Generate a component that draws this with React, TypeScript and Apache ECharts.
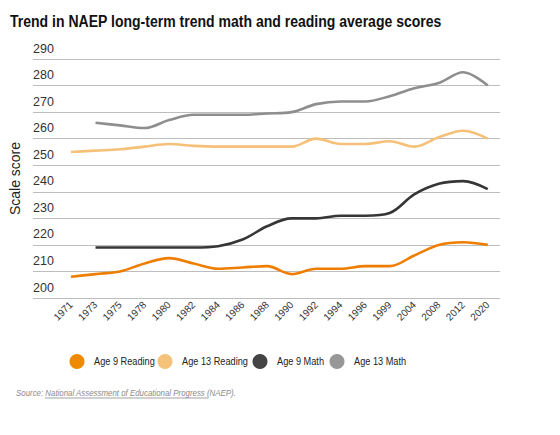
import React, { useEffect, useRef } from "react";
import * as echarts from "echarts";

const years = ["1971","1973","1975","1978","1980","1982","1984","1986","1988","1990","1992","1994","1996","1999","2004","2008","2012","2020"];
const age9Reading = [208,209,210,213,215,213,211,211.5,212,209,211,211,212,212,216,220,221,220];
const age13Reading = [255,255.5,256,257,258,257.3,257,257,257,257,260,258,258,259,257,260.5,263,260];
const age9Math = [null,219,219,219,219,219,219.5,222,227,230,230,231,231,232,239,243,244,241];
const age13Math = [null,266,265,264,267,269,269,269,269.5,270,273,274,274,276,279,281,285,280];
const seriesNames = ["Age 9 Reading","Age 13 Reading","Age 9 Math","Age 13 Math"];
const seriesColors = ["#ef7d00","#f5c078","#363636","#8e8e8e"];
const legendColors = ["#ef8a00","#f5c27a","#444444","#979797"];
const yTicks = { min: 200, max: 290, interval: 10 };

const SANS = '"Liberation Sans", Arial, sans-serif';
const legendIconX = [77, 165, 260, 337];

export default function App() {
  const ref = useRef<HTMLDivElement>(null);
  useEffect(() => {
    document.body.style.margin = "0";
    const chart = echarts.init(ref.current!, null, { renderer: "svg" });
    const all = [age9Reading, age13Reading, age9Math, age13Math];
    const legendEls: any[] = [];
    seriesNames.forEach((n, k) => {
      legendEls.push({
        type: "circle",
        shape: { cx: legendIconX[k], cy: 361.5, r: 7.5 },
        style: { fill: legendColors[k] },
      });
      legendEls.push({
        type: "text",
        x: legendIconX[k] + 17,
        y: 361.5,
        scaleX: 0.8,
        style: {
          text: n,
          font: `11.5px ${SANS}`,
          fill: "#222",
          verticalAlign: "middle",
        },
      });
    });
    chart.setOption({
      animation: false,
      backgroundColor: "#ffffff",
      grid: { left: 33, right: 60, top: 59, bottom: 137 },
      xAxis: {
        type: "value",
        min: -1.55,
        max: 17.5,
        axisLine: { show: false },
        axisTick: { show: false },
        splitLine: { show: false },
        axisLabel: {
          customValues: years.map((_, i) => i),
          formatter: (v: number) => years[Math.round(v)] ?? "",
          rotate: 45,
          margin: 5,
          fontFamily: SANS,
          fontSize: 10,
          color: "#333",
        },
      },
      yAxis: {
        type: "value",
        min: yTicks.min,
        max: yTicks.max,
        interval: yTicks.interval,
        name: "Scale score",
        nameLocation: "middle",
        nameRotate: 90,
        nameGap: 8,
        nameTextStyle: { fontFamily: SANS, fontSize: 14, color: "#222" },
        axisLine: { show: false },
        axisTick: { show: false },
        splitLine: { lineStyle: { color: "#bdbdbd", width: 1 } },
        axisLabel: {
          inside: true,
          margin: 0,
          verticalAlign: "bottom",
          padding: [0, 0, 4, 0],
          fontFamily: SANS,
          fontSize: 12.5,
          color: "#333",
        },
      },
      series: all.map((arr, k) => ({
        name: seriesNames[k],
        type: "line",
        smooth: 0.35,
        showSymbol: false,
        symbol: "circle",
        connectNulls: false,
        color: seriesColors[k],
        lineStyle: { width: 2.6, color: seriesColors[k] },
        data: arr.map((v, i) => (v === null ? [i, null] : [i, v])),
      })),
      graphic: [
        {
          type: "text",
          x: 10,
          y: 12,
          scaleX: 0.825,
          style: {
            text: "Trend in NAEP long-term trend math and reading average scores",
            font: `bold 17px ${SANS}`,
            fill: "#111",
          },
        },
        ...legendEls,
        {
          type: "text",
          x: 16,
          y: 388,
          scaleX: 0.83,
          style: {
            text: "Source: National Assessment of Educational Progress (NAEP).",
            font: `italic 9.5px ${SANS}`,
            fill: "#8a8a8a",
          },
        },
        {
          type: "line",
          shape: { x1: 45, y1: 398, x2: 208, y2: 398 },
          style: { stroke: "#8a8a8a", lineWidth: 0.8 },
        },
      ],
    });
    return () => chart.dispose();
  }, []);
  return <div ref={ref} style={{ width: 560, height: 435 }} />;
}
